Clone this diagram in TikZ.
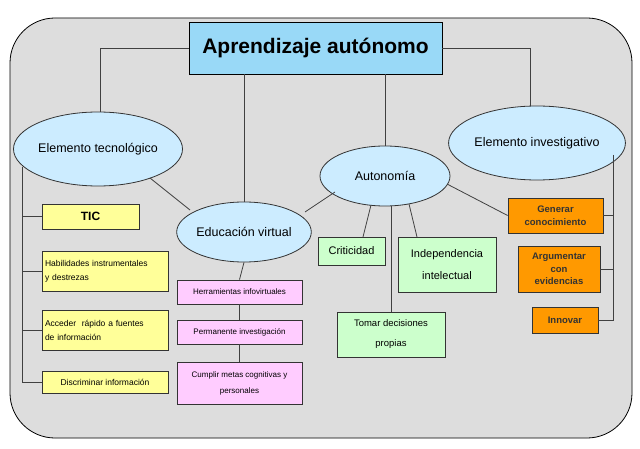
\documentclass[tikz,border=0pt]{standalone}
\usepackage{fontspec}
\setmainfont{Liberation Sans}
\usetikzlibrary{shapes.geometric}
\definecolor{bg}{HTML}{DDDDDD}
\definecolor{ell}{HTML}{CCECFF}
\definecolor{tit}{HTML}{99D9F7}
\definecolor{yel}{HTML}{FFFF99}
\definecolor{pnk}{HTML}{FFCCFF}
\definecolor{grn}{HTML}{CCFFCC}
\definecolor{org}{HTML}{FF9900}
\begin{document}
\begin{tikzpicture}[x=1pt,y=-1pt,
  el/.style={ellipse,draw=black!80,fill=ell,thick,inner sep=0,font=\fontsize{12.5}{15}\selectfont},
  bx/.style={draw=black!80,thick,inner sep=2pt,font=\fontsize{8.5}{14}\selectfont,align=left},
  ln/.style={draw=black!75,thick}]
\useasboundingbox (0,0) rectangle (640,449);
\fill[white] (0,0) rectangle (640,449);
\draw[thick,fill=bg,rounded corners=45] (10,18) rectangle (632,438);
\node[draw,thick,fill=tit,minimum width=253,minimum height=52,font=\fontsize{21}{24}\selectfont\bfseries] (t) at (315.5,48) {Aprendizaje autónomo};
\node[el,minimum width=164,minimum height=74] (et) at (98,149) {Elemento tecnológico};
\node[el,minimum width=164,minimum height=74] (ei) at (537,143) {Elemento investigativo};
\node[el,minimum width=130,minimum height=60] (au) at (385,176) {Autonomía};
\node[el,minimum width=134,minimum height=60] (ev) at (244,232) {Educación virtual};
% yellow
\node[bx,fill=yel,minimum width=97,minimum height=25,align=center,font=\fontsize{12}{14}\selectfont\bfseries] (y1) at (90.5,216.5) {TIC};
\node[bx,fill=yel,minimum width=126,minimum height=40,text width=120] (y2) at (105,271) {Habilidades instrumentales\\y destrezas};
\node[bx,fill=yel,minimum width=126,minimum height=40,text width=120] (y3) at (105,330) {Acceder\ \ rápido a fuentes\\de información};
\node[bx,fill=yel,minimum width=126,minimum height=22,align=center] (y4) at (105,382) {Discriminar información};
% pink
\node[bx,fill=pnk,minimum width=125,minimum height=24,align=center,font=\fontsize{8}{14}\selectfont] (p1) at (239.5,292) {Herramientas infovirtuales};
\node[bx,fill=pnk,minimum width=125,minimum height=24,align=center,font=\fontsize{8}{14}\selectfont] (p2) at (239.5,332) {Permanente investigación};
\node[bx,fill=pnk,minimum width=125,minimum height=42,align=center,font=\fontsize{8}{16}\selectfont] (p3) at (239.5,383) {Cumplir metas cognitivas y\\personales};
% green
\node[bx,fill=grn,minimum width=67,minimum height=28,align=center,font=\fontsize{11}{14}\selectfont] (g1) at (351.5,251) {Criticidad};
\node[bx,fill=grn,minimum width=98,minimum height=55,align=center,font=\fontsize{11}{22}\selectfont] (g2) at (447,264.5) {Independencia\\intelectual};
\node[bx,fill=grn,minimum width=108,minimum height=45,align=center,font=\fontsize{9.5}{20}\selectfont] (g3) at (391,334.5) {Tomar decisiones\\propias};
% orange
\node[bx,fill=org,minimum width=95,minimum height=35,align=center,font=\fontsize{9.5}{13}\selectfont\bfseries,text=black!80] (o1) at (555.5,215.5) {Generar\\conocimiento};
\node[bx,fill=org,minimum width=82,minimum height=46,align=center,font=\fontsize{9.5}{12.5}\selectfont\bfseries,text=black!80] (o2) at (559,269) {Argumentar\\con\\evidencias};
\node[bx,fill=org,minimum width=66,minimum height=26,align=center,font=\fontsize{9.5}{12}\selectfont\bfseries,text=black!80] (o3) at (565,320) {Innovar};
% connector points
\coordinate (c1) at (100,48); \coordinate (c2) at (530,48); \coordinate (c2b) at (530,106);
\coordinate (etr) at (150,178); \coordinate (evl) at (190,210);
\coordinate (evr) at (305,212); \coordinate (aul) at (335,192);
\coordinate (aur) at (447,184);
\coordinate (a1) at (371,205); \coordinate (a2) at (391,206); \coordinate (a3) at (409,204);
\coordinate (g1t) at (363,237); \coordinate (g3t) at (391,312); \coordinate (g2t) at (417,237);
\coordinate (lt) at (22,167); \coordinate (lb) at (22,382);
\coordinate (rt) at (613,155); \coordinate (rb) at (613,320);
\draw[ln] (t.west) -- (c1) -- (et.north -| c1);
\draw[ln] (t.east) -- (c2) -- (c2b);
\draw[ln] (t.south -| ev.north) -- (ev.north);
\draw[ln] (t.south -| au.north) -- (au.north);
\draw[ln] (etr) -- (evl);
\draw[ln] (evr) -- (aul);
\draw[ln] (lt) -- (lb) -- (y4.west);
\draw[ln] (lt |- y1.west) -- (y1.west);
\draw[ln] (lt |- y2.west) -- (y2.west);
\draw[ln] (lt |- y3.west) -- (y3.west);
\draw[ln] (ev.south) -- (p1.north);
\draw[ln] (p1.south) -- (p2.north);
\draw[ln] (p2.south) -- (p3.north);
\draw[ln] (a1) -- (g1t);
\draw[ln] (a2) -- (g3t);
\draw[ln] (a3) -- (g2t);
\draw[ln] (aur) -- (o1.west);
\draw[ln] (rt) -- (rb) -- (o3.east);
\draw[ln] (o1.east) -- (rt |- o1.east);
\draw[ln] (o2.east) -- (rt |- o2.east);
\end{tikzpicture}
\end{document}
